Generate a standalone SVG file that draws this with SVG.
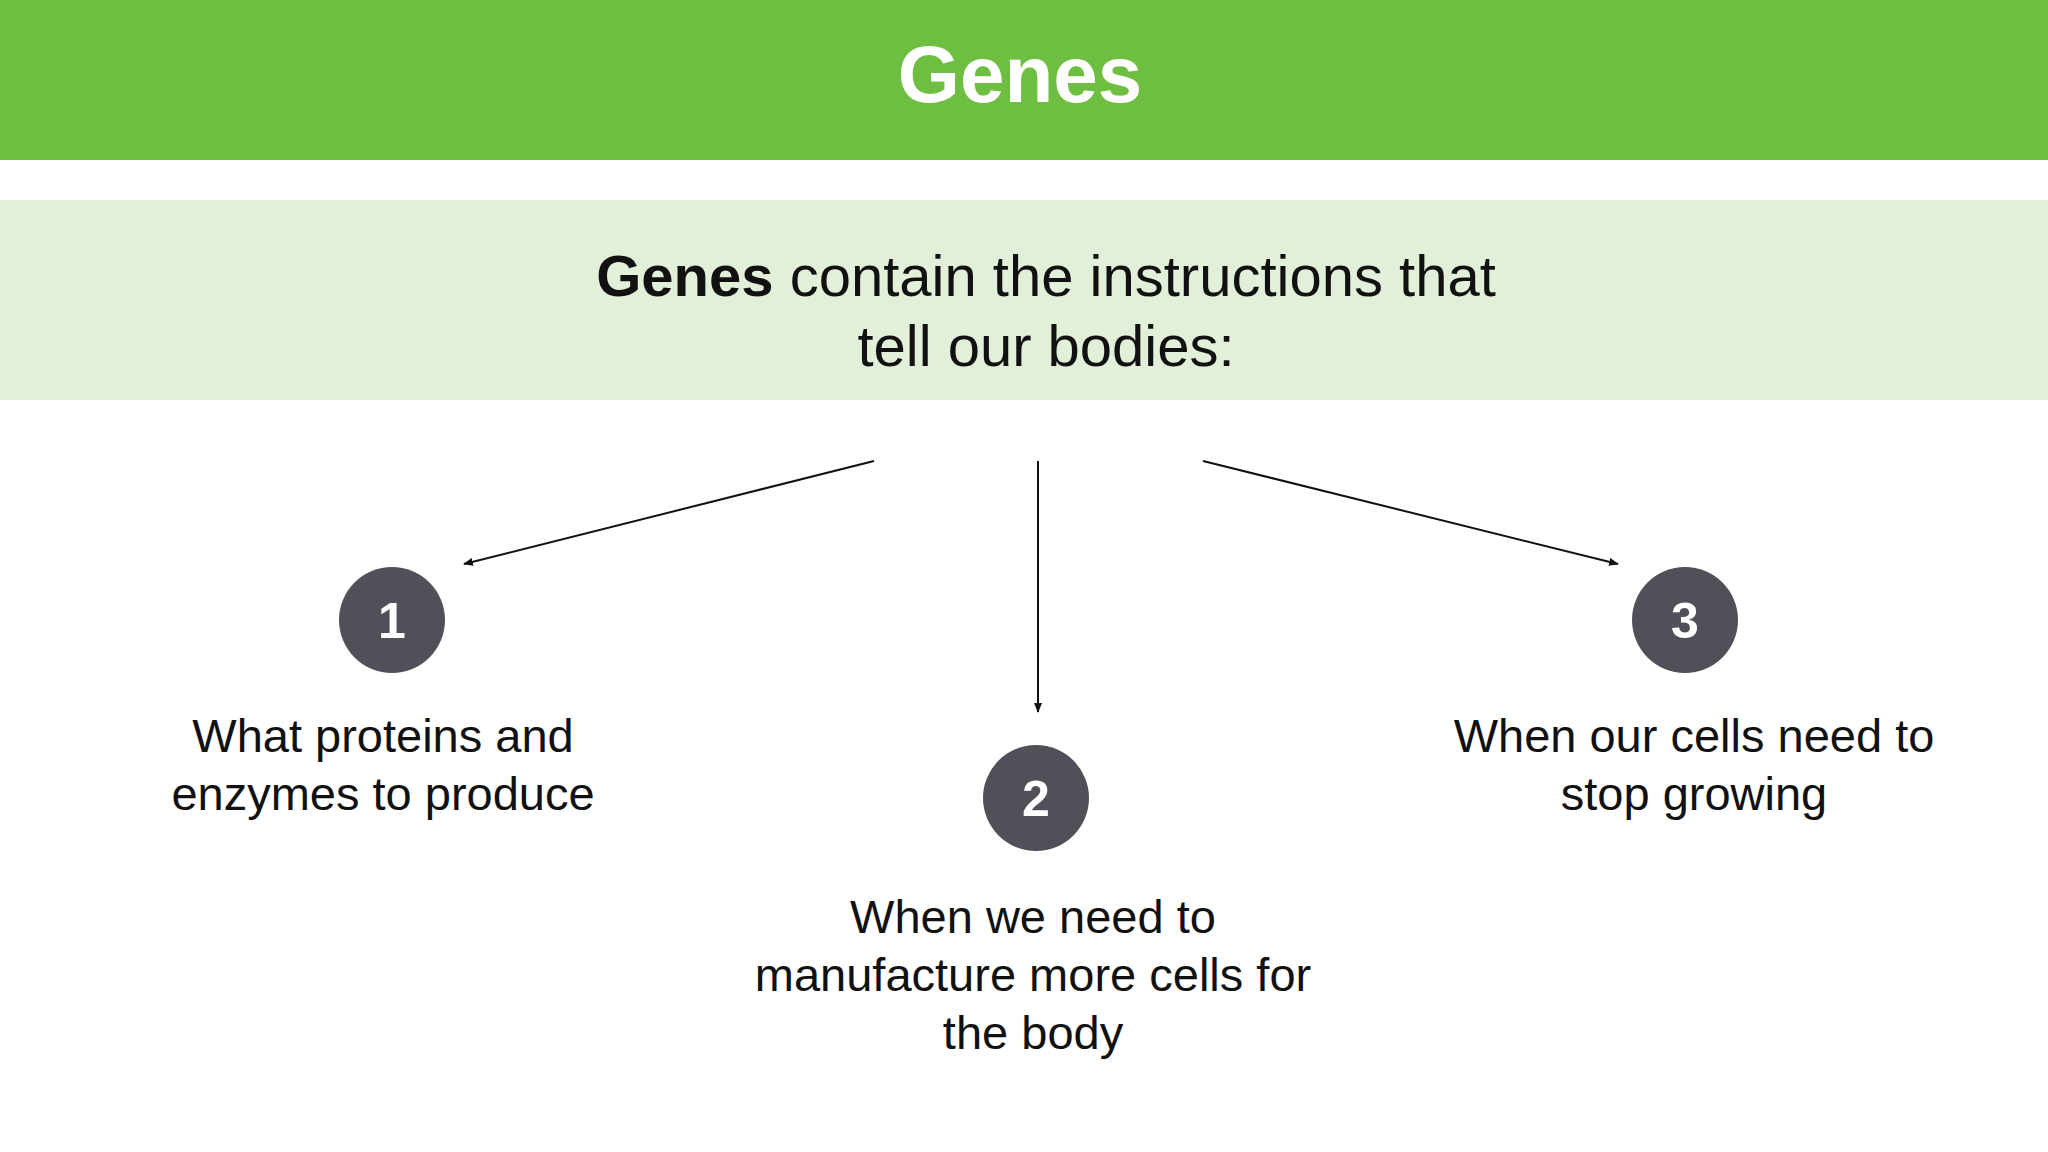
<svg xmlns="http://www.w3.org/2000/svg" width="2048" height="1152" viewBox="0 0 2048 1152">
<style>
.t{font-family:"Liberation Sans",Arial,sans-serif;fill:#111;text-anchor:middle}
.b{font-size:47px}
.n{font-family:"Liberation Sans",Arial,sans-serif;font-weight:bold;font-size:50px;fill:#fff;text-anchor:middle}
.c{fill:#4F5058}
</style>
<defs><marker id="a" markerWidth="10" markerHeight="8" refX="9" refY="4" orient="auto" markerUnits="userSpaceOnUse"><path d="M0,0 L10,4 L0,8 z" fill="#111"/></marker></defs>
<rect width="2048" height="1152" fill="#fff"/>
<g id="header"><rect x="0" y="0" width="2048" height="160" fill="#6EBF41"/>
<text x="1020" y="102" class="t" style="font-size:80px;font-weight:bold;fill:#fff">Genes</text></g>
<g id="intro"><rect x="0" y="200" width="2048" height="200" fill="#E3F0D9"/>
<text x="1046" y="296" class="t" style="font-size:58px"><tspan font-weight="bold">Genes</tspan> contain the instructions that</text>
<text x="1046" y="366" class="t" style="font-size:58px">tell our bodies:</text></g>
<g id="connectors" stroke="#111" stroke-width="2" fill="none" marker-end="url(#a)">
<line x1="874" y1="461" x2="464" y2="564"/>
<line x1="1038" y1="461" x2="1038" y2="712"/>
<line x1="1203" y1="461" x2="1618" y2="564"/>
</g>
<g id="n1"><circle cx="392" cy="620" r="53" class="c"/><text x="392" y="638" class="n">1</text>
<text x="383" y="752" class="t b">What proteins and</text><text x="383" y="810" class="t b">enzymes to produce</text></g>
<g id="n2"><circle cx="1036" cy="798" r="53" class="c"/><text x="1036" y="816" class="n">2</text>
<text x="1033" y="933" class="t b">When we need to</text><text x="1033" y="991" class="t b">manufacture more cells for</text><text x="1033" y="1049" class="t b">the body</text></g>
<g id="n3"><circle cx="1685" cy="620" r="53" class="c"/><text x="1685" y="638" class="n">3</text>
<text x="1694" y="752" class="t b">When our cells need to</text><text x="1694" y="810" class="t b">stop growing</text></g>
</svg>
